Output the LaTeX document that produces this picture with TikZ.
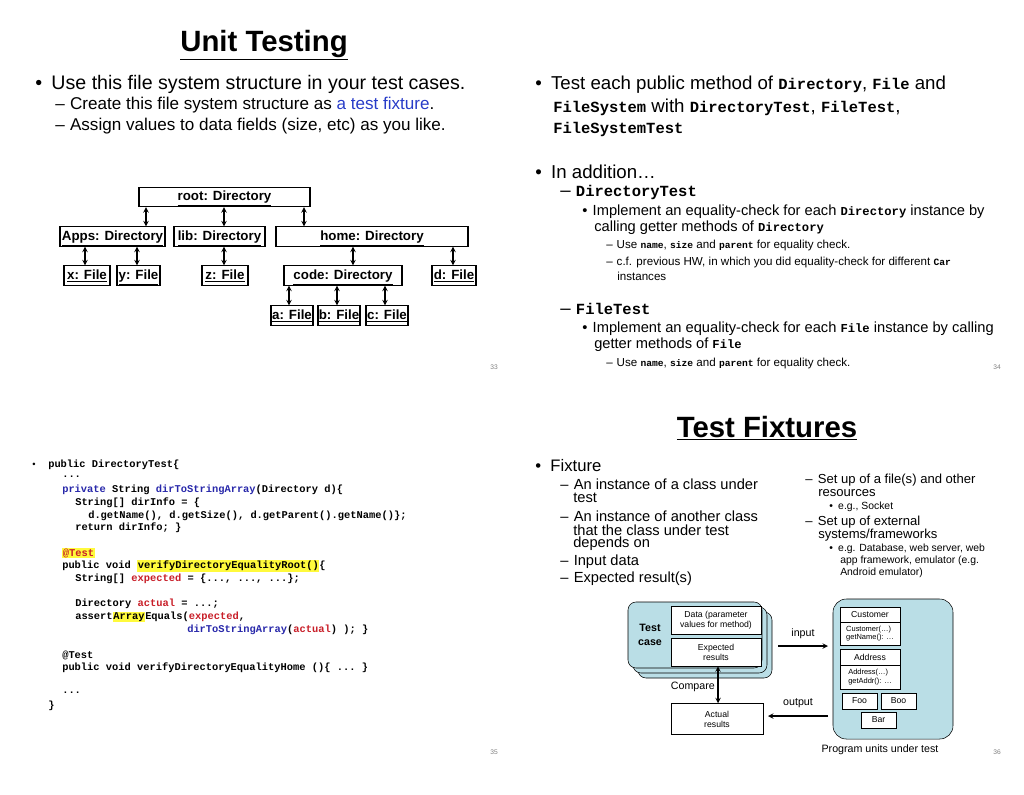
\documentclass[tikz,border=0pt]{standalone}
\usepackage{fontspec}
\setmainfont{Liberation Sans}
\setmonofont{Liberation Mono}
\newfontfamily\cdfont{Liberation Mono}[Scale=0.83]
\usepackage{xcolor}
\definecolor{codeblue}{RGB}{40,40,170}
\definecolor{codered}{RGB}{200,30,40}
\definecolor{hl}{RGB}{255,250,60}
\definecolor{fixteal}{RGB}{186,222,230}
\definecolor{linkblue}{RGB}{40,60,200}
\newcommand{\hlt}[1]{{\setlength{\fboxsep}{0.5pt}\colorbox{hl}{#1}}}
\newcommand{\cd}[1]{{\cdfont\bfseries #1}}
\tikzset{
  txt/.style={anchor=west,inner sep=0pt},
  fbx/.style={draw,thick,inner sep=0pt,minimum height=14.5pt,text height=8pt,text depth=2.5pt,font=\fontsize{10}{11}\selectfont\bfseries},
  dbl/.style={<->,thick,>=stealth},
  pgnum/.style={inner sep=0pt,text=gray,font=\fontsize{5}{6}\selectfont},
  wbx/.style={draw,fill=white,inner sep=0pt,align=center,font=\fontsize{6.5}{7.5}\selectfont},
  mbx/.style={draw,fill=white,inner sep=1.5pt,align=left,font=\fontsize{5.6}{6.6}\selectfont},
  code/.style={txt,font=\fontsize{7.8}{9}\selectfont\ttfamily\bfseries},
}
\begin{document}
\begin{tikzpicture}[x=0.75pt,y=0.75pt,yscale=-1]
\useasboundingbox (0,0) rectangle (1024,794);

% ---------- slide 33
\node[inner sep=0pt,font=\fontsize{22}{26}\selectfont\bfseries] (t33) at (264,45) {\underline{Unit Testing}};
\node[txt,font=\fontsize{14.7}{16}\selectfont] (b1) at (35,84) {\textbullet\hspace{7pt}Use this file system structure in your test cases.};
\node[txt,font=\fontsize{12.8}{14}\selectfont] (b1a) at (55,105) {–\hspace{4pt}Create this file system structure as \textcolor{linkblue}{a test fixture}.};
\node[txt,font=\fontsize{12.8}{14}\selectfont] (b1b) at (55,126) {–\hspace{4pt}Assign values to data fields (size, etc) as you like.};

% tree
\node[fbx,minimum width=0.75pt*171] (root) at (224.5,197) {\underline{root: Directory}};
\node[fbx,minimum width=0.75pt*105] (apps) at (112.5,236.5) {\underline{Apps: Directory}};
\node[fbx,minimum width=0.75pt*91] (lib) at (219.5,236.5) {\underline{lib: Directory}};
\node[fbx,minimum width=0.75pt*192] (home) at (372,236.5) {\underline{home: Directory}};
\node[fbx,minimum width=0.75pt*46] (xf) at (87,275.5) {\underline{x: File}};
\node[fbx,minimum width=0.75pt*43] (yf) at (138.5,275.5) {\underline{y: File}};
\node[fbx,minimum width=0.75pt*46] (zf) at (225,275.5) {\underline{z: File}};
\node[fbx,minimum width=0.75pt*118] (codef) at (343,275.5) {\underline{code: Directory}};
\node[fbx,minimum width=0.75pt*44] (df) at (454,275.5) {\underline{d: File}};
\node[fbx,minimum width=0.75pt*42] (af) at (292,315.5) {\underline{a: File}};
\node[fbx,minimum width=0.75pt*42] (bf) at (339,315.5) {\underline{b: File}};
\node[fbx,minimum width=0.75pt*42] (cf) at (387,315.5) {\underline{c: File}};
\draw[dbl] (root.south -| 146,0) -- (apps.north -| 146,0);
\draw[dbl] (root.south -| 224,0) -- (lib.north -| 224,0);
\draw[dbl] (root.south -| 304,0) -- (home.north -| 304,0);
\draw[dbl] (apps.south -| 85,0) -- (xf.north -| 85,0);
\draw[dbl] (apps.south -| 137,0) -- (yf.north -| 137,0);
\draw[dbl] (lib.south -| 224,0) -- (zf.north -| 224,0);
\draw[dbl] (home.south -| 353,0) -- (codef.north -| 353,0);
\draw[dbl] (home.south -| 453,0) -- (df.north -| 453,0);
\draw[dbl] (codef.south -| 289,0) -- (af.north -| 289,0);
\draw[dbl] (codef.south -| 337,0) -- (bf.north -| 337,0);
\draw[dbl] (codef.south -| 385,0) -- (cf.north -| 385,0);
\node[pgnum] (p33) at (494,367) {33};

% ---------- slide 34
\begin{scope}[font=\fontsize{14}{16}\selectfont]
\node[txt] (c1) at (535,85) {\textbullet\hspace{7pt}Test each public method of \cd{Directory}, \cd{File} and};
\node[txt] (c2) at (553,107) {\cd{FileSystem} with \cd{DirectoryTest}, \cd{FileTest},};
\node[txt] (c3) at (553,129) {\cd{FileSystemTest}};
\node[txt] (c4) at (535,172) {\textbullet\hspace{7pt}In addition…};
\node[txt] (c5) at (560,192) {–\hspace{4pt}\cd{DirectoryTest}};
\node[txt] (c9) at (560,309) {–\hspace{4pt}\cd{FileTest}};
\end{scope}
\begin{scope}[font=\fontsize{11}{13}\selectfont]
\node[txt] (c6) at (582,212) {\textbullet\hspace{4pt}Implement an equality-check for each \cd{Directory} instance by};
\node[txt] (c6b) at (594,228) {calling getter methods of \cd{Directory}};
\node[txt] (c10) at (582,329) {\textbullet\hspace{4pt}Implement an equality-check for each \cd{File} instance by calling};
\node[txt] (c10b) at (594,345) {getter methods of \cd{File}};
\end{scope}
\begin{scope}[font=\fontsize{8.7}{10}\selectfont]
\node[txt] (c7) at (606,245) {–\hspace{3pt}Use \cd{name}, \cd{size} and \cd{parent} for equality check.};
\node[txt] (c8) at (606,262) {–\hspace{3pt}c.f. previous HW, in which you did equality-check for different \cd{Car}};
\node[txt] (c8b) at (617,276) {instances};
\node[txt] (c11) at (606,363) {–\hspace{3pt}Use \cd{name}, \cd{size} and \cd{parent} for equality check.};
\end{scope}
\node[pgnum] (p34) at (997,367) {34};

% ---------- slide 35
\node[txt,font=\fontsize{7}{8}\selectfont] (cb) at (32,465) {\textbullet};
\node[code] (l1) at (48,465) {public DirectoryTest\{};
\node[code] (l2) at (62,477) {...};
\node[code] (l3) at (62,490) {\textcolor{codeblue}{private} String \textcolor{codeblue}{dirToStringArray}(Directory d)\{};
\node[code] (l4) at (75,503) {String[] dirInfo = \{};
\node[code] (l5) at (88,516) {d.getName(), d.getSize(), d.getParent().getName()\};};
\node[code] (l6) at (75,528) {return dirInfo; \}};
\node[code] (l7) at (62,553) {\hlt{\textcolor{codered}{@Test}}};
\node[code] (l8) at (62,566) {public void \hlt{verifyDirectoryEqualityRoot()}\{};
\node[code] (l9) at (75,579) {String[] \textcolor{codered}{expected} = \{..., ..., ...\};};
\node[code] (l10) at (75,604) {Directory \textcolor{codered}{actual} = ...;};
\node[code] (l11) at (75,617) {assert\hlt{Array}Equals(\textcolor{codered}{expected},};
\node[code] (l12) at (187,630) {\textcolor{codeblue}{dirToStringArray}(\textcolor{codered}{actual}) ); \}};
\node[code] (l13) at (62,655) {@Test};
\node[code] (l14) at (62,668) {public void verifyDirectoryEqualityHome ()\{ ... \}};
\node[code] (l15) at (62,693) {...};
\node[code] (l16) at (48,706) {\}};
\node[pgnum] (p35) at (494,752) {35};

% ---------- slide 36
\node[inner sep=0pt,font=\fontsize{22}{26}\selectfont\bfseries] (t36) at (767,428) {\underline{Test Fixtures}};
\begin{scope}[font=\fontsize{11}{12}\selectfont]
\node[txt,font=\fontsize{12.5}{14}\selectfont] (f1) at (535,466) {\textbullet\hspace{7pt}Fixture};
\node[txt] (f2) at (560,484) {–\hspace{4pt}An instance of a class under};
\node[txt] (f2b) at (573,498) {test};
\node[txt] (f3) at (560,516) {–\hspace{4pt}An instance of another class};
\node[txt] (f3b) at (573,530) {that the class under test};
\node[txt] (f3c) at (573,544) {depends on};
\node[txt] (f4) at (560,562) {–\hspace{4pt}Input data};
\node[txt] (f5) at (560,579) {–\hspace{4pt}Expected result(s)};
\end{scope}
\begin{scope}[font=\fontsize{9.8}{11}\selectfont]
\node[txt] (g1) at (805,480) {–\hspace{4pt}Set up of a file(s) and other};
\node[txt] (g1b) at (818,493) {resources};
\node[txt] (g3) at (805,522) {–\hspace{4pt}Set up of external};
\node[txt] (g3b) at (818,535) {systems/frameworks};
\end{scope}
\begin{scope}[font=\fontsize{7.8}{9}\selectfont]
\node[txt] (g2) at (829,507) {\textbullet\hspace{4pt}e.g., Socket};
\node[txt] (g4) at (829,549) {\textbullet\hspace{4pt}e.g. Database, web server, web};
\node[txt] (g4b) at (840,561) {app framework, emulator (e.g.};
\node[txt] (g4c) at (840,573) {Android emulator)};
\end{scope}

% test case stack
\draw[fill=fixteal,rounded corners=6pt] (638,612) rectangle (772,678);
\draw[fill=fixteal,rounded corners=6pt] (633,607) rectangle (767,673);
\draw[fill=fixteal,rounded corners=6pt] (628,602) rectangle (762,668);
\node[inner sep=0pt,align=center,font=\fontsize{8}{10}\selectfont\bfseries] (tc) at (650,635) {Test\\case};
\node[wbx,minimum width=0.75pt*90,minimum height=0.75pt*28] (data) at (716,620) {Data (parameter\\values for method)};
\node[wbx,minimum width=0.75pt*90,minimum height=0.75pt*28] (exp) at (716,652) {Expected\\results};
\node[wbx,minimum width=0.75pt*92,minimum height=0.75pt*31] (act) at (717,719) {Actual\\results};
\draw[dbl] (exp.south -| 718,0) -- (act.north -| 718,0) node[pos=0.55,left=2pt,inner sep=0pt,font=\fontsize{8}{10}\selectfont] (cmp) {Compare};

% program units
\draw[fill=fixteal,rounded corners=10pt] (833,599) rectangle (953,739);
\node[wbx,minimum width=0.75pt*60,minimum height=0.75pt*15] (cust) at (870,614.5) {Customer};
\node[mbx,minimum width=0.75pt*60,minimum height=0.75pt*23] (custm) at (870,633.5) {Customer(…)\\getName(): …};
\node[wbx,minimum width=0.75pt*60,minimum height=0.75pt*16] (addr) at (870,657) {Address};
\node[mbx,minimum width=0.75pt*60,minimum height=0.75pt*24] (addrm) at (870,677) {Address(…)\\getAddr(): …};
\node[wbx,minimum width=0.75pt*35,minimum height=0.75pt*16] (foo) at (859.5,701) {Foo};
\node[wbx,minimum width=0.75pt*35,minimum height=0.75pt*16] (boo) at (898.5,701) {Boo};
\node[wbx,minimum width=0.75pt*35,minimum height=0.75pt*16] (bar) at (878.5,720) {Bar};
\coordinate (inS) at (778,646);
\coordinate (inE) at (828,646);
\coordinate (outS) at (828,716);
\coordinate (outE) at (768,716);
\draw[->,thick,>=stealth] (inS) -- (inE) node[midway,above=5pt,inner sep=0pt,font=\fontsize{8}{10}\selectfont] (inl) {input};
\draw[->,thick,>=stealth] (outS) -- (outE) node[midway,above=6pt,inner sep=0pt,font=\fontsize{8}{10}\selectfont] (outl) {output};
\node[inner sep=0pt,font=\fontsize{8}{10}\selectfont] (pu) at (880,750) {Program units under test};
\node[pgnum] (p36) at (997,752) {36};
\end{tikzpicture}
\end{document}
